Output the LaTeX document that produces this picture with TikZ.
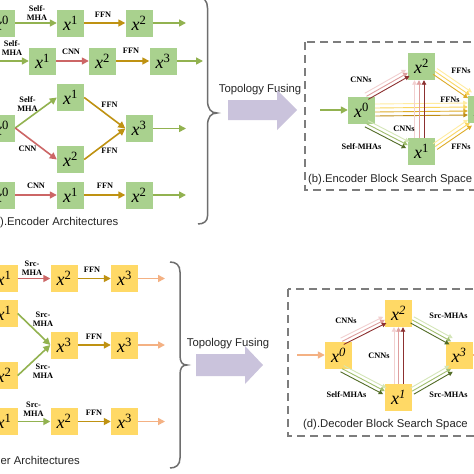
\documentclass[tikz,border=0pt]{standalone}
\usepackage{fontspec}
\setmainfont{Liberation Serif}
\newfontfamily\capfont{Liberation Sans}
\usetikzlibrary{arrows.meta,positioning,calc}
\definecolor{encG}{RGB}{169,209,142}
\definecolor{decY}{RGB}{255,217,102}
\definecolor{lnG}{RGB}{146,178,80}
\definecolor{lnR}{RGB}{204,102,102}
\definecolor{lnF}{RGB}{191,146,18}
\definecolor{lnO}{RGB}{244,177,131}
\definecolor{boxG}{RGB}{125,125,125}
\definecolor{braceG}{RGB}{110,110,110}
\definecolor{fuseP}{RGB}{202,195,220}
\definecolor{pnkA}{RGB}{242,208,208}
\definecolor{pnkB}{RGB}{222,158,158}
\definecolor{pnkC}{RGB}{140,48,48}
\definecolor{grnA}{RGB}{212,230,184}
\definecolor{grnB}{RGB}{160,190,110}
\definecolor{grnC}{RGB}{82,108,38}
\definecolor{ylwA}{RGB}{255,236,160}
\definecolor{ylwB}{RGB}{250,214,96}
\definecolor{ylwC}{RGB}{222,172,40}
\definecolor{ylwD}{RGB}{190,140,20}
\newcommand{\xu}[1]{\textit{x}\textsuperscript{#1}}
\newcommand{\xit}[1]{\textit{x\textsuperscript{#1}}}
\newcommand{\bund}[3]{%
  \foreach \off/\cl in {#3}
    \draw[thinarr,draw=\cl] ($(#1)!\off!90:(#2)$) -- ($(#2)!\off!-90:(#1)$);}

\begin{document}
\begin{tikzpicture}[x=1pt,y=-1pt,
  every node/.style={inner sep=0pt},
  encbox/.style={fill=encG,minimum size=27pt,font=\fontsize{18}{18}\selectfont},
  decbox/.style={fill=decY,minimum size=27pt,font=\fontsize{18}{18}\selectfont},
  lbl/.style={font=\fontsize{8.3}{9.5}\selectfont\bfseries,align=center},
  captxt/.style={font=\capfont\fontsize{11.3}{13}\selectfont,text=black!85},
  arr/.style={-{Triangle[length=7pt,width=7pt]},line width=1.6pt},
  thinarr/.style={-{Triangle[length=4.5pt,width=4.5pt]},line width=0.9pt},
  dashbox/.style={draw=boxG,line width=1.2pt,dash pattern=on 8pt off 5pt},
  brace/.style={draw=braceG,line width=1.5pt},
  fuse/.style={fill=fuseP}
]
\useasboundingbox (0,0) rectangle (474,474);
\fill[white] (0,0) rectangle (474,474);
\clip (0,0) rectangle (474,474);

% (a) encoder architectures
\node[encbox] (a10) at (1.5,23) {\xu{0}};
\node[encbox] (a11) at (70.5,23) {\xu{1}};
\node[encbox] (a12) at (139,23) {\xu{2}};
\coordinate (a1o) at (186,23);
\draw[arr,lnG] (a10) -- (a11);
\draw[arr,lnF] (a11) -- (a12);
\draw[arr,lnG] (a12) -- (a1o);
\node[lbl] at (37,13) {Self-\\MHA};
\node[lbl] at (103,14.5) {FFN};

\coordinate (a2i) at (-2,61);
\node[encbox] (a21) at (42.5,61) {\xu{1}};
\node[encbox] (a22) at (102.5,61) {\xu{2}};
\node[encbox] (a23) at (163,61) {\xu{3}};
\coordinate (a2o) at (203,61);
\draw[arr,lnG] (a2i) -- (a21);
\draw[arr,lnR] (a21) -- (a22);
\draw[arr,lnF] (a22) -- (a23);
\draw[arr,lnG] (a23) -- (a2o);
\node[lbl] at (12,48) {Self-\\MHA};
\node[lbl] at (71,51.5) {CNN};
\node[lbl] at (131,51) {FFN};

\node[encbox] (a30) at (1.5,128) {\xu{0}};
\node[encbox] (a31) at (70.5,97.5) {\xu{1}};
\node[encbox] (a32) at (70.5,159.5) {\xu{2}};
\node[encbox] (a33) at (139,128.5) {\xu{3}};
\coordinate (a3o) at (186,128.5);
\draw[arr,lnG] (a30.east) -- (a31.west);
\draw[arr,lnR] (a30.east) -- (a32.west);
\draw[arr,lnF] (a31.east) -- (a33.west);
\draw[arr,lnF] (a32.east) -- (a33.west);
\draw[arr,lnG] (a33) -- (a3o);
\node[lbl] at (27.5,104) {Self-\\MHA};
\node[lbl] at (27.5,149) {CNN};
\node[lbl] at (109.5,105) {FFN};
\node[lbl] at (109.5,151) {FFN};

\node[encbox] (a40) at (1.5,195) {\xu{0}};
\node[encbox] (a41) at (70.5,195) {\xu{1}};
\node[encbox] (a42) at (139,195) {\xu{2}};
\coordinate (a4o) at (186,195);
\draw[arr,lnR] (a40) -- (a41);
\draw[arr,lnF] (a41) -- (a42);
\draw[arr,lnG] (a42) -- (a4o);
\node[lbl] at (36,186) {CNN};
\node[lbl] at (105,186) {FFN};

\node[captxt,anchor=west] (capa) at (-10,223) {(a).Encoder Architectures};

\draw[brace] (197,-3) .. controls (204,-3) and (207.5,1) .. (207.5,8) -- (207.5,100)
  .. controls (207.5,109) and (211,113) .. (217,113)
  .. controls (211,113) and (207.5,117) .. (207.5,126) -- (207.5,216)
  .. controls (207.5,221) and (204,224) .. (198,224);

\node[captxt] (fusea) at (260,90) {Topology Fusing};
\fill[fuse] (228,100) -- (277,100) -- (277,90) -- (297,110) -- (277,130) -- (277,120) -- (228,120) -- cycle;

% (b) encoder block search space
\draw[dashbox] (305,42) rectangle (500,190);
\node[encbox] (b0) at (361.5,110) {\xu{0}};
\node[encbox] (b2) at (421.5,66.5) {\xu{2}};
\node[encbox] (b1) at (421.5,151.5) {\xu{1}};
\node[encbox] (b3) at (481.5,109) {\xu{3}};
\coordinate (bi) at (320,110);
\draw[arr,lnG] (bi) -- (b0);
\bund{b0.east}{b3.west}{6pt/ylwA,2pt/ylwB,-2pt/ylwC,-6pt/ylwD}
\bund{b2.-20}{b3.130}{3.5pt/ylwA,0pt/ylwB,-3.5pt/ylwC}
\bund{b1.20}{b3.230}{3.5pt/ylwA,0pt/ylwB,-3.5pt/ylwC}
\bund{b0.70}{b2.205}{3.5pt/pnkA,0pt/pnkB,-3.5pt/pnkC}
\bund{b0.290}{b1.155}{3.5pt/grnA,0pt/grnB,-3.5pt/grnC}
\bund{b1.north}{b2.south}{7pt/pnkA,2.5pt/pnkB,-2.5pt/pnkC}
\node[lbl] at (361,80) {CNNs};
\node[lbl] at (461,70.5) {FFNs};
\node[lbl] at (450,99.5) {FFNs};
\node[lbl] at (404,128.5) {CNNs};
\node[lbl] at (361.5,147) {Self-MHAs};
\node[lbl] at (461,147) {FFNs};
\node[captxt,anchor=west] (capb) at (308,180) {(b).Encoder Block Search Space};

% (c) decoder architectures
\node[decbox] (c11) at (4,278.5) {\xu{1}};
\node[decbox] (c12) at (64,278.5) {\xu{2}};
\node[decbox] (c13) at (124.5,278.5) {\xu{3}};
\coordinate (c1o) at (165,278.5);
\draw[arr,lnR] (c11) -- (c12);
\draw[arr,lnF] (c12) -- (c13);
\draw[arr,lnO] (c13) -- (c1o);
\node[lbl] at (32,268) {Src-\\MHA};
\node[lbl] at (92,269.5) {FFN};

\node[decbox] (c21) at (4,313.5) {\xu{1}};
\node[decbox] (c22) at (4,375.5) {\xu{2}};
\node[decbox] (c23) at (64,345) {\xu{3}};
\node[decbox] (c24) at (124.5,345) {\xu{3}};
\coordinate (c2o) at (165,345);
\draw[arr,lnG] (c21.east) -- (c23.west);
\draw[arr,lnG] (c22.east) -- (c23.west);
\draw[arr,lnF] (c23) -- (c24);
\draw[arr,lnO] (c24) -- (c2o);
\node[lbl] at (43,319) {Src-\\MHA};
\node[lbl] at (43,371) {Src-\\MHA};
\node[lbl] at (94,337) {FFN};

\node[decbox] (c31) at (4,421.5) {\xu{1}};
\node[decbox] (c32) at (64,421.5) {\xu{2}};
\node[decbox] (c33) at (124.5,421.5) {\xu{3}};
\coordinate (c3o) at (165,421.5);
\draw[arr,lnG] (c31) -- (c32);
\draw[arr,lnF] (c32) -- (c33);
\draw[arr,lnO] (c33) -- (c3o);
\node[lbl] at (33.5,409) {Src-\\MHA};
\node[lbl] at (94,413) {FFN};

\node[captxt,anchor=east] (capc) at (80,462) {(c).Decoder Architectures};

\draw[brace] (170,262) .. controls (176,262) and (180,265) .. (180,272) -- (180,355)
  .. controls (180,362) and (182,365) .. (187,365)
  .. controls (182,365) and (180,368) .. (180,375) -- (180,458)
  .. controls (180,465) and (176,468) .. (170,468);

\node[captxt] (fusec) at (228,344) {Topology Fusing};
\fill[fuse] (196,354) -- (245,354) -- (245,346) -- (263,365) -- (245,384) -- (245,376) -- (196,376) -- cycle;

% (d) decoder block search space
\draw[dashbox] (288,289) rectangle (500,436);
\node[decbox] (d0) at (338.5,355) {\xit{0}};
\node[decbox] (d2) at (398.5,313.5) {\xit{2}};
\node[decbox] (d1) at (398.5,397.5) {\xit{1}};
\node[decbox] (d3) at (459,355) {\xit{3}};
\coordinate (di) at (297,355);
\coordinate (do) at (495,355);
\draw[arr,lnO] (di) -- (d0);
\draw[arr,lnO] (d3) -- (do);
\bund{d0.75}{d2.205}{3.5pt/pnkA,0pt/pnkB,-3.5pt/pnkC}
\bund{d0.285}{d1.155}{3.5pt/grnA,0pt/grnB,-3.5pt/grnC}
\bund{d1.north}{d2.south}{4.5pt/pnkA,0pt/pnkB,-4.5pt/pnkC}
\bund{d2.-25}{d3.120}{3.5pt/grnA,0pt/grnB,-3.5pt/grnC}
\bund{d1.25}{d3.240}{3.5pt/grnA,0pt/grnB,-3.5pt/grnC}
\node[lbl] at (346,320.5) {CNNs};
\node[lbl] at (448.5,315.5) {Src-MHAs};
\node[lbl] at (379,355.5) {CNNs};
\node[lbl] at (346.5,394.5) {Self-MHAs};
\node[lbl] at (448.5,394.5) {Src-MHAs};
\node[captxt,anchor=west] (capd) at (303,425) {(d).Decoder Block Search Space};
\end{tikzpicture}
\end{document}
